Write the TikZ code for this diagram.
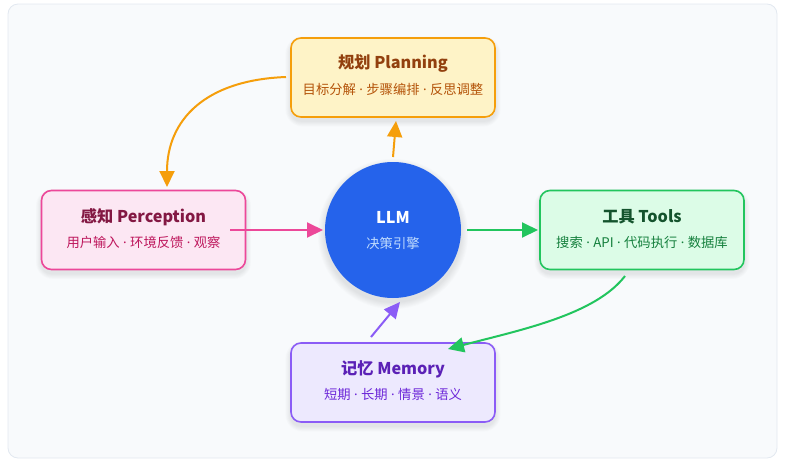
\documentclass[tikz,border=0pt]{standalone}
\usepackage{fontspec}
\setmainfont{Noto Sans CJK SC}
\newfontfamily\latinfont{Noto Sans}
\usetikzlibrary{arrows.meta}
\definecolor{bgc}{HTML}{F8FAFC}
\definecolor{bgborder}{HTML}{E2E8F0}
\definecolor{planfill}{HTML}{FEF3C7}\definecolor{plandraw}{HTML}{F59E0B}
\definecolor{plantitle}{HTML}{92400E}\definecolor{plansub}{HTML}{B45309}
\definecolor{perfill}{HTML}{FCE7F3}\definecolor{perdraw}{HTML}{EC4899}
\definecolor{pertitle}{HTML}{831843}\definecolor{persub}{HTML}{BE185D}
\definecolor{toolfill}{HTML}{DCFCE7}\definecolor{tooldraw}{HTML}{22C55E}
\definecolor{tooltitle}{HTML}{14532D}\definecolor{toolsub}{HTML}{15803D}
\definecolor{memfill}{HTML}{EDE9FE}\definecolor{memdraw}{HTML}{8B5CF6}
\definecolor{memtitle}{HTML}{5B21B6}\definecolor{memsub}{HTML}{6D28D9}
\definecolor{llmfill}{HTML}{2563EB}\definecolor{llmsub}{HTML}{BFDBFE}
\newcommand{\sep}{{\latinfont\ ·\ }}
\newcommand{\boxshadow}[2]{%
  \foreach \k in {1,...,7}{
    \fill[black, opacity=0.011, rounded corners=10pt+\k pt]
      ($(#1,#2)+(-102-\k*0.8,-39.5-\k*0.8+4)$) rectangle ($(#1,#2)+(102+\k*0.8,39.5+\k*0.8+4)$);
  }}
\usetikzlibrary{calc}
\tikzset{
  x=1pt,y=-1pt,
  modbox/.style={rounded corners=10pt, line width=1.6pt, minimum width=204pt, minimum height=79pt},
  ttl/.style={font=\fontsize{16.2}{19}\selectfont\bfseries},
  sub/.style={font=\fontsize{13.3}{16}\selectfont},
  conn/.style={line width=2pt, -{Triangle[length=16pt,width=15pt]}},
}
\begin{document}
\begin{tikzpicture}
\useasboundingbox (0,0) rectangle (785,464);
\draw[bgborder, fill=bgc, rounded corners=10pt, line width=0.8pt] (8,4) rectangle (777,458);

\boxshadow{393}{77.5}
\boxshadow{143.5}{230}
\boxshadow{642}{230}
\boxshadow{393}{382.5}
\foreach \k in {1,...,8}{
  \fill[black, opacity=0.012] (393,234) circle[radius=68pt+\k pt*0.9];
}

\node[modbox, draw=plandraw, fill=planfill] (plan) at (393,77.5) {};
\node[ttl, text=plantitle] (plant) at (393,64) {规划 Planning};
\node[sub, text=plansub] (plans) at (393,89) {目标分解\sep 步骤编排\sep 反思调整};

\node[modbox, draw=perdraw, fill=perfill] (per) at (143.5,230) {};
\node[ttl, text=pertitle] (pert) at (143.5,217) {感知 Perception};
\node[sub, text=persub] (pers) at (143.5,242) {用户输入\sep 环境反馈\sep 观察};

\node[modbox, draw=tooldraw, fill=toolfill] (tool) at (642,230) {};
\node[ttl, text=tooltitle] (toolt) at (642,217) {工具 Tools};
\node[sub, text=toolsub] (tools) at (642,242) {搜索\sep API\sep 代码执行\sep 数据库};

\node[modbox, draw=memdraw, fill=memfill] (mem) at (393,382.5) {};
\node[ttl, text=memtitle] (memt) at (393,369) {记忆 Memory};
\node[sub, text=memsub] (mems) at (393,394) {短期\sep 长期\sep 情景\sep 语义};

\node[circle, fill=llmfill, minimum size=136pt, inner sep=0pt] (llm) at (393,230) {};
\node[ttl, text=white] (llmt) at (393,217) {LLM};
\node[sub, text=llmsub] (llms) at (393,243) {决策引擎};

\coordinate (pu1) at (393,157);
\coordinate (pu2) at (396,121);
\draw[conn, plandraw] (pu1) -- (pu2);

\coordinate (pc1) at (286,77);
\coordinate (pc2) at (167,187);
\draw[conn, plandraw] (pc1) .. controls (205,80) and (167,120) .. (pc2);

\coordinate (pr1) at (230,230);
\coordinate (pr2) at (323,230);
\draw[conn, perdraw] (pr1) -- (pr2);

\coordinate (tr1) at (467,230);
\coordinate (tr2) at (538,230);
\draw[conn, tooldraw] (tr1) -- (tr2);

\coordinate (tc1) at (625,276);
\coordinate (tc2) at (448,349);
\draw[conn, tooldraw] (tc1) .. controls (595,315) and (520,330) .. (tc2);

\coordinate (mu1) at (371,337);
\coordinate (mu2) at (400,302);
\draw[conn, memdraw] (mu1) -- (mu2);
\end{tikzpicture}
\end{document}
